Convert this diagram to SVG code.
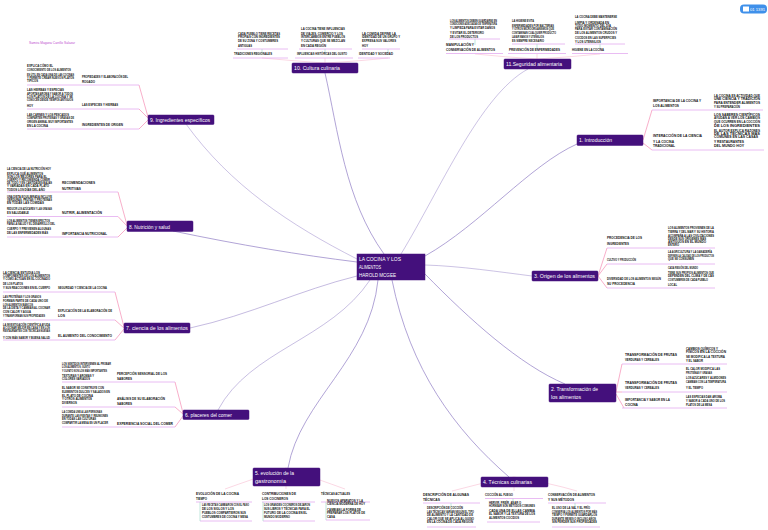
<svg xmlns="http://www.w3.org/2000/svg" width="768" height="530" viewBox="0 0 768 530">
<style>
text{font-family:"Liberation Sans",Arial,sans-serif}
.b{fill:#44107c;stroke:#44107c;stroke-width:.5}
.h{fill:#fff;font-size:5px}
.l{fill:#111;font-size:3.4px;font-weight:bold}
.t{fill:#111;font-size:3px;font-weight:bold}
.c{fill:none;stroke:#8f7cc4;stroke-width:.7}
.p{fill:none;stroke:#f7a6c4;stroke-width:.9}
.u{fill:none;stroke:#e6b4f2;stroke-width:.9}
.g{fill:none;stroke:#a8dccf;stroke-width:.7}
.a{fill:none;stroke:#f7b0c8;stroke-width:.5}
</style>
<rect width="768" height="530" fill="#fff"/>
<text x="29" y="43.500" style="fill:#c04fd0;font-size:3.4px" textLength="46" lengthAdjust="spacingAndGlyphs">Samira Magana Carrillo Salazar</text>
<g id="badge"><rect x="740" y="4.500" width="27" height="9" rx="4" fill="#3f90ea"/><rect x="743" y="6.500" width="6" height="5" fill="#fff"/><text x="750" y="10.800" style="fill:#fff;font-size:4.200px" textLength="15" lengthAdjust="spacingAndGlyphs">01 1391</text></g>
<g id="connectors">
<path class="c" d="M425 256C480 225 530 165 577 144"/>
<path class="c" d="M401 254C440 190 480 95 528 69" stroke-opacity=".65"/>
<path class="c" d="M384 254C345 200 338 130 325 73"/>
<path class="c" d="M357 259C290 225 230 185 186 124" stroke-opacity=".65"/>
<path class="c" d="M357 262C300 255 240 245 173 231"/>
<path class="c" d="M357 276C300 290 250 315 190 328" stroke-opacity=".75"/>
<path class="c" d="M370 280C330 340 250 350 218 410" stroke-opacity=".7"/>
<path class="c" d="M378 280C370 360 300 400 288 468"/>
<path class="c" d="M392 280C410 370 455 430 509 477"/>
<path class="c" d="M425 274C470 320 520 365 565 384"/>
<path class="c" d="M425 265C460 266 500 272 532 276" stroke-opacity=".65"/>
<g id="b1"><path class="p" d="M643 140L652 110M643 143L652 150"/><path class="u" d="M652 110H763M652 150H764"/></g>
<g id="b3"><path class="p" d="M598 276L607 248M598 276L607 264M598 276L607 288"/><path class="u" d="M607 248H715M607 264H715M607 288H715"/></g>
<g id="b2"><path class="p" d="M616 392L622 364M616 392L622 392M616 394L624 408"/><path class="u" d="M622 364H727M622 392H727M622 408H727"/></g>
<g id="b9"><path class="p" d="M148 117L139 85M148 118L139 109M148 120L139 129"/><path class="u" d="M139 85H27M139 109H27M139 129H27"/></g>
<g id="b8"><path class="p" d="M127 225L118 192M127 226L118 216.500M127 228L118 237"/><path class="u" d="M118 192H7M118 216.500H7M118 237H7"/></g>
<g id="b7"><path class="p" d="M124 327L115 292M124 328L115 320M124 329L115 340"/><path class="u" d="M115 292H3M115 320H3M115 340H3"/></g>
<g id="b6"><path class="p" d="M183 413L175 382M183 414L175 407M183 416L175 427"/><path class="u" d="M175 382H62M175 407H62M175 427H62"/></g>
<g id="b5"><path class="a" d="M286 468Q250 480 225 489M286 468V489M286 468Q320 480 345 489"/><path class="u" d="M196 502H252M262 502H315M321 502H370M200 521H252M263 521H315M326 520H370"/><path class="g" d="M200 502V521M263 502V521M326 502V520"/></g>
<g id="b4"><path class="a" d="M514 477Q480 483 452 491M514 477V491M514 477Q550 483 577 491"/><path class="u" d="M423 503H480M485 498.500H543M548 503H606M427 527H476M487 522H540M552 527H600"/><path class="g" d="M451 503V507M513 498.500V502M575 503V507"/></g>
<g id="b11"><path class="a" d="M537 59Q505 57 475 54M537 59V54M537 59Q570 57 600 54"/><path class="u" d="M446 53.500H503M508 53.500H566M572 53.500H628M449 39H500M512 44H565M575 44H625"/><path class="g" d="M475 39V45M537 44V49M600 44V49"/></g>
<g id="b10"><path class="a" d="M325 63Q295 61 262 58M325 63V58M325 63Q360 61 388 58"/><path class="u" d="M233 58H288M295 58H353M358 58H390M237 49H288M299 49H352M362 49H400"/><path class="g" d="M262 49V53M325 49V53M388 49V53"/></g>
</g>
<g id="center"><rect class="b" x="357" y="254" width="68" height="26"/><text class="h" x="359" y="261" textLength="42" lengthAdjust="spacingAndGlyphs">LA COCINA Y LOS</text><text class="h" x="359" y="268.500" textLength="22" lengthAdjust="spacingAndGlyphs">ALIMENTOS</text><text class="h" x="359" y="277" textLength="37" lengthAdjust="spacingAndGlyphs">HAROLD MCGEE</text></g>
<g id="n1"><rect class="b" x="577" y="135" width="66" height="10.500" rx="1"/><text class="h" x="579" y="142" textLength="33" lengthAdjust="spacingAndGlyphs">1. Introducción</text>
<text class="l" x="653" y="102" textLength="48" lengthAdjust="spacingAndGlyphs">IMPORTANCIA DE LA COCINA Y</text><text class="l" x="653" y="107" textLength="26" lengthAdjust="spacingAndGlyphs">LOS ALIMENTOS</text>
<text class="l" x="653" y="137" textLength="49" lengthAdjust="spacingAndGlyphs">INTERACCIÓN DE LA CIENCIA</text><text class="l" x="653" y="143" textLength="21" lengthAdjust="spacingAndGlyphs">Y LA COCINA</text><text class="l" x="653" y="147" textLength="22" lengthAdjust="spacingAndGlyphs">TRADICIONAL</text>
<text class="t" x="714" y="97" textLength="46" lengthAdjust="spacingAndGlyphs">LA COCINA ES ACTIVIDAD QUE</text><text class="t" x="714" y="100" textLength="46" lengthAdjust="spacingAndGlyphs">UNE CIENCIA Y TRADICIÓN</text><text class="t" x="714" y="104" textLength="46" lengthAdjust="spacingAndGlyphs">PARA ENTENDER ALIMENTOS</text><text class="t" x="714" y="108" textLength="26" lengthAdjust="spacingAndGlyphs">Y SU PREPARACIÓN</text>
<text class="t" x="714" y="116" textLength="46" lengthAdjust="spacingAndGlyphs">LOS SABERES CIENTÍFICOS</text><text class="t" x="714" y="119" textLength="46" lengthAdjust="spacingAndGlyphs">AYUDAN A VER LOS CAMBIOS</text><text class="t" x="714" y="123" textLength="46" lengthAdjust="spacingAndGlyphs">QUE OCURREN EN LA COCCIÓN</text><text class="t" x="714" y="127" textLength="46" lengthAdjust="spacingAndGlyphs">DE LOS INGREDIENTES</text><text class="t" x="714" y="132" textLength="46" lengthAdjust="spacingAndGlyphs">EL AUTOR EXPLICA RAZONES</text><text class="t" x="714" y="135" textLength="46" lengthAdjust="spacingAndGlyphs">DE LAS TÉCNICAS MÁS</text><text class="t" x="714" y="138" textLength="44" lengthAdjust="spacingAndGlyphs">COMUNES EN LAS CASAS</text><text class="t" x="714" y="143" textLength="30" lengthAdjust="spacingAndGlyphs">Y RESTAURANTES</text><text class="t" x="714" y="147" textLength="30" lengthAdjust="spacingAndGlyphs">DEL MUNDO HOY</text></g>
<g id="n3"><rect class="b" x="532" y="271" width="66" height="10" rx="1"/><text class="h" x="534" y="278" textLength="61" lengthAdjust="spacingAndGlyphs">3. Origen de los alimentos</text>
<text class="l" x="607" y="239" textLength="35" lengthAdjust="spacingAndGlyphs">PROCEDENCIA DE LOS</text><text class="l" x="607" y="245" textLength="22" lengthAdjust="spacingAndGlyphs">INGREDIENTES</text><text class="l" x="607" y="261" textLength="29" lengthAdjust="spacingAndGlyphs">CULTIVO Y PRODUCCIÓN</text><text class="l" x="607" y="280" textLength="54" lengthAdjust="spacingAndGlyphs">DIVERSIDAD DE LOS ALIMENTOS SEGÚN</text><text class="l" x="607" y="285" textLength="28" lengthAdjust="spacingAndGlyphs">SU PROCEDENCIA</text>
<text class="t" x="668" y="229" textLength="46" lengthAdjust="spacingAndGlyphs">LOS ALIMENTOS PROVIENEN DE LA</text><text class="t" x="668" y="233" textLength="46" lengthAdjust="spacingAndGlyphs">TIERRA Y DEL MAR Y SU HISTORIA</text><text class="t" x="668" y="236.500" textLength="46" lengthAdjust="spacingAndGlyphs">ACOMPAÑA A LAS CIVILIZACIONES</text><text class="t" x="668" y="239.500" textLength="38" lengthAdjust="spacingAndGlyphs">DESDE SUS ORÍGENES MÁS</text><text class="t" x="668" y="242.500" textLength="38" lengthAdjust="spacingAndGlyphs">ANTIGUOS EN EL MUNDO</text><text class="t" x="668" y="246" textLength="11" lengthAdjust="spacingAndGlyphs">ENTERO</text>
<text class="t" x="668" y="253" textLength="44" lengthAdjust="spacingAndGlyphs">LA AGRICULTURA Y LA GANADERÍA</text><text class="t" x="668" y="257" textLength="46" lengthAdjust="spacingAndGlyphs">DEFINEN LA CALIDAD DE LOS PRODUCTOS</text><text class="t" x="668" y="260" textLength="26" lengthAdjust="spacingAndGlyphs">QUE SE CONSUMEN</text>
<text class="t" x="668" y="269" textLength="30" lengthAdjust="spacingAndGlyphs">CADA REGIÓN DEL MUNDO</text><text class="t" x="668" y="273.500" textLength="46" lengthAdjust="spacingAndGlyphs">TIENE SUS PROPIOS ALIMENTOS QUE</text><text class="t" x="668" y="277" textLength="46" lengthAdjust="spacingAndGlyphs">DEPENDEN DEL CLIMA Y DE LAS</text><text class="t" x="668" y="280.500" textLength="40" lengthAdjust="spacingAndGlyphs">COSTUMBRES DE CADA PUEBLO</text><text class="t" x="668" y="286" textLength="9" lengthAdjust="spacingAndGlyphs">LOCAL</text></g>
<g id="n2"><rect class="b" x="549" y="384" width="67" height="18" rx="1"/><text class="h" x="551" y="391" textLength="47" lengthAdjust="spacingAndGlyphs">2. Transformación de</text><text class="h" x="551" y="398.500" textLength="30" lengthAdjust="spacingAndGlyphs">los alimentos</text>
<text class="l" x="625" y="356" textLength="52" lengthAdjust="spacingAndGlyphs">TRANSFORMACIÓN DE FRUTAS</text><text class="l" x="625" y="361" textLength="34" lengthAdjust="spacingAndGlyphs">VERDURAS Y CEREALES</text><text class="l" x="625" y="384" textLength="52" lengthAdjust="spacingAndGlyphs">TRANSFORMACIÓN DE FRUTAS</text><text class="l" x="625" y="389" textLength="34" lengthAdjust="spacingAndGlyphs">VERDURAS Y CEREALES</text><text class="l" x="625" y="401" textLength="45" lengthAdjust="spacingAndGlyphs">IMPORTANCIA Y SABOR EN LA</text><text class="l" x="625" y="405.500" textLength="13" lengthAdjust="spacingAndGlyphs">COCINA</text>
<text class="t" x="686" y="350" textLength="32" lengthAdjust="spacingAndGlyphs">CAMBIOS QUÍMICOS Y</text><text class="t" x="686" y="353" textLength="40" lengthAdjust="spacingAndGlyphs">FÍSICOS EN LA COCCIÓN</text><text class="t" x="686" y="358" textLength="39" lengthAdjust="spacingAndGlyphs">SE MODIFICA LA TEXTURA</text><text class="t" x="686" y="362" textLength="17" lengthAdjust="spacingAndGlyphs">Y EL SABOR</text>
<text class="t" x="686" y="370" textLength="34" lengthAdjust="spacingAndGlyphs">EL CALOR MODIFICA LAS</text><text class="t" x="686" y="374" textLength="26" lengthAdjust="spacingAndGlyphs">PROTEÍNAS Y GRASAS</text><text class="t" x="686" y="379" textLength="40" lengthAdjust="spacingAndGlyphs">LOS AZÚCARES Y ALMIDONES</text><text class="t" x="686" y="382.500" textLength="40" lengthAdjust="spacingAndGlyphs">CAMBIAN CON LA TEMPERATURA</text><text class="t" x="686" y="389" textLength="17" lengthAdjust="spacingAndGlyphs">Y EL TIEMPO</text>
<text class="t" x="686" y="398" textLength="36" lengthAdjust="spacingAndGlyphs">LAS ESPECIAS DAN AROMA</text><text class="t" x="686" y="402" textLength="39" lengthAdjust="spacingAndGlyphs">Y SABOR A CADA UNO DE LOS</text><text class="t" x="686" y="406" textLength="26" lengthAdjust="spacingAndGlyphs">PLATOS DE LA MESA</text></g>
<g id="n4"><rect class="b" x="481" y="477" width="67" height="10" rx="1"/><text class="h" x="483" y="484" textLength="49" lengthAdjust="spacingAndGlyphs">4. Técnicas culinarias</text>
<text class="l" x="423" y="495.500" textLength="46" lengthAdjust="spacingAndGlyphs">DESCRIPCIÓN DE ALGUNAS</text><text class="l" x="423" y="500.500" textLength="17" lengthAdjust="spacingAndGlyphs">TÉCNICAS</text><text class="l" x="485" y="495.500" textLength="28" lengthAdjust="spacingAndGlyphs">COCCIÓN AL FUEGO</text><text class="l" x="548" y="495.500" textLength="47" lengthAdjust="spacingAndGlyphs">CONSERVACIÓN DE ALIMENTOS</text><text class="l" x="548" y="500.500" textLength="26" lengthAdjust="spacingAndGlyphs">Y SUS MÉTODOS</text>
<text class="t" x="427" y="509" textLength="36" lengthAdjust="spacingAndGlyphs">DESCRIPCIÓN DE COCCIÓN</text><text class="t" x="427" y="512.500" textLength="47" lengthAdjust="spacingAndGlyphs">LAS TÉCNICAS VARÍAN SEGÚN EL TIPO</text><text class="t" x="427" y="516" textLength="46" lengthAdjust="spacingAndGlyphs">DE ALIMENTO Y LA CANTIDAD DE</text><text class="t" x="427" y="519.500" textLength="47" lengthAdjust="spacingAndGlyphs">CALOR QUE SE APLICA AL GUISO</text><text class="t" x="427" y="523" textLength="46" lengthAdjust="spacingAndGlyphs">EN LA COCINA DE CADA REGIÓN</text>
<text class="t" x="489" y="504" textLength="32" lengthAdjust="spacingAndGlyphs">HERVIR, FREÍR, ASAR O</text><text class="t" x="489" y="507" textLength="46" lengthAdjust="spacingAndGlyphs">HORNEAR SON MÉTODOS COMUNES</text><text class="t" x="489" y="512" textLength="46" lengthAdjust="spacingAndGlyphs">CADA UNA DE ELLAS CAMBIA</text><text class="t" x="489" y="515" textLength="46" lengthAdjust="spacingAndGlyphs">EL SABOR Y LA TEXTURA DE LOS</text><text class="t" x="489" y="519" textLength="30" lengthAdjust="spacingAndGlyphs">ALIMENTOS COCIDOS</text>
<text class="t" x="552" y="509" textLength="38" lengthAdjust="spacingAndGlyphs">EL USO DE LA SAL Y EL FRÍO</text><text class="t" x="552" y="512.500" textLength="45" lengthAdjust="spacingAndGlyphs">CONSERVA LOS ALIMENTOS POR MÁS</text><text class="t" x="552" y="516" textLength="45" lengthAdjust="spacingAndGlyphs">TIEMPO Y PERMITE GUARDARLOS</text><text class="t" x="552" y="519.500" textLength="44" lengthAdjust="spacingAndGlyphs">DURANTE MESES O INCLUSO AÑOS</text><text class="t" x="552" y="523" textLength="45" lengthAdjust="spacingAndGlyphs">SIN PERDER SUS PROPIEDADES</text></g>
<g id="n5"><rect class="b" x="253" y="468" width="67" height="18" rx="1"/><text class="h" x="255" y="475" textLength="39" lengthAdjust="spacingAndGlyphs">5. evolución de la</text><text class="h" x="255" y="482.500" textLength="31" lengthAdjust="spacingAndGlyphs">gastronomía</text>
<text class="l" x="196" y="494.500" textLength="43" lengthAdjust="spacingAndGlyphs">EVOLUCIÓN DE LA COCINA</text><text class="l" x="196" y="499.500" textLength="11" lengthAdjust="spacingAndGlyphs">TIEMPO</text><text class="l" x="262" y="494.500" textLength="34" lengthAdjust="spacingAndGlyphs">CONTRIBUCIONES DE</text><text class="l" x="262" y="499.500" textLength="26" lengthAdjust="spacingAndGlyphs">LOS COCINEROS</text><text class="l" x="321" y="494.500" textLength="29" lengthAdjust="spacingAndGlyphs">TÉCNICAS ACTUALES</text>
<text class="t" x="202" y="506" textLength="47" lengthAdjust="spacingAndGlyphs">LAS RECETAS CAMBIARON CON EL PASO</text><text class="t" x="202" y="510" textLength="32" lengthAdjust="spacingAndGlyphs">DE LOS SIGLOS Y LOS</text><text class="t" x="202" y="514" textLength="44" lengthAdjust="spacingAndGlyphs">PUEBLOS COMPARTIERON SUS</text><text class="t" x="202" y="518" textLength="46" lengthAdjust="spacingAndGlyphs">COSTUMBRES DE COCINA Y MESA</text>
<text class="t" x="264" y="506" textLength="46" lengthAdjust="spacingAndGlyphs">LOS GRANDES COCINEROS DEJARON</text><text class="t" x="264" y="510" textLength="46" lengthAdjust="spacingAndGlyphs">SUS LIBROS Y TÉCNICAS PARA EL</text><text class="t" x="264" y="514" textLength="43" lengthAdjust="spacingAndGlyphs">FUTURO DE LA COCINA EN EL</text><text class="t" x="264" y="518" textLength="26" lengthAdjust="spacingAndGlyphs">MUNDO MODERNO</text>
<text class="t" x="327" y="502" textLength="36" lengthAdjust="spacingAndGlyphs">NUEVOS APARATOS Y LA</text><text class="t" x="327" y="505" textLength="38" lengthAdjust="spacingAndGlyphs">CIENCIA MODERNA DE HOY</text><text class="t" x="327" y="510.500" textLength="34" lengthAdjust="spacingAndGlyphs">CAMBIAN LA FORMA DE</text><text class="t" x="327" y="513.500" textLength="38" lengthAdjust="spacingAndGlyphs">PREPARAR LOS PLATOS DE</text><text class="t" x="327" y="517.500" textLength="8" lengthAdjust="spacingAndGlyphs">CASA</text></g>
<g id="n6"><rect class="b" x="183" y="410" width="66" height="9.500" rx="1"/><text class="h" x="185" y="417" textLength="47" lengthAdjust="spacingAndGlyphs">6. placeres del comer</text>
<text class="l" x="117" y="375" textLength="50" lengthAdjust="spacingAndGlyphs">PERCEPCIÓN SENSORIAL DE LOS</text><text class="l" x="117" y="380" textLength="15" lengthAdjust="spacingAndGlyphs">SABORES</text><text class="l" x="117" y="400" textLength="48" lengthAdjust="spacingAndGlyphs">ANÁLISIS DE SU ELABORACIÓN</text><text class="l" x="117" y="405" textLength="15" lengthAdjust="spacingAndGlyphs">SABORES</text><text class="l" x="117" y="424.500" textLength="56" lengthAdjust="spacingAndGlyphs">EXPERIENCIA SOCIAL DEL COMER</text>
<text class="t" x="62" y="365" textLength="49" lengthAdjust="spacingAndGlyphs">LOS SENTIDOS INTERVIENEN AL PROBAR</text><text class="t" x="62" y="368" textLength="28" lengthAdjust="spacingAndGlyphs">LOS ALIMENTOS, GUSTO</text><text class="t" x="62" y="372" textLength="45" lengthAdjust="spacingAndGlyphs">Y OLFATO SON LOS MÁS IMPORTANTES</text><text class="t" x="62" y="377" textLength="32" lengthAdjust="spacingAndGlyphs">TEXTURAS Y AROMAS Y</text><text class="t" x="62" y="380" textLength="28" lengthAdjust="spacingAndGlyphs">COLORES VARIADOS</text>
<text class="t" x="62" y="389" textLength="42" lengthAdjust="spacingAndGlyphs">EL SABOR SE CONSTRUYE CON</text><text class="t" x="62" y="393" textLength="48" lengthAdjust="spacingAndGlyphs">ELEMENTOS DULCES Y SALADOS EN</text><text class="t" x="62" y="396.500" textLength="31" lengthAdjust="spacingAndGlyphs">EL PLATO DE COCINA</text><text class="t" x="62" y="400" textLength="30" lengthAdjust="spacingAndGlyphs">Y OTROS ALIMENTOS</text><text class="t" x="62" y="404" textLength="15" lengthAdjust="spacingAndGlyphs">DIVERSOS</text>
<text class="t" x="62" y="413" textLength="40" lengthAdjust="spacingAndGlyphs">LA COMIDA UNE A LAS PERSONAS</text><text class="t" x="62" y="416.500" textLength="46" lengthAdjust="spacingAndGlyphs">DURANTE LAS FIESTAS Y REUNIONES</text><text class="t" x="62" y="420" textLength="34" lengthAdjust="spacingAndGlyphs">EN TODAS LAS CULTURAS</text><text class="t" x="62" y="424" textLength="46" lengthAdjust="spacingAndGlyphs">COMPARTIR LA MESA ES UN PLACER</text></g>
<g id="n7"><rect class="b" x="124" y="323" width="66" height="10" rx="1"/><text class="h" x="126" y="330" textLength="62" lengthAdjust="spacingAndGlyphs">7. ciencia de los alimentos</text>
<text class="l" x="58" y="289" textLength="49" lengthAdjust="spacingAndGlyphs">SEGURIDAD Y CIENCIA DE LA COCINA</text><text class="l" x="58" y="312" textLength="54" lengthAdjust="spacingAndGlyphs">EXPLICACIÓN DE LA ELABORACIÓN DE</text><text class="l" x="58" y="317" textLength="7" lengthAdjust="spacingAndGlyphs">LOS</text><text class="l" x="58" y="337" textLength="54" lengthAdjust="spacingAndGlyphs">EL AUMENTO DEL CONOCIMIENTO</text>
<text class="t" x="3" y="274" textLength="37" lengthAdjust="spacingAndGlyphs">LA CIENCIA ESTUDIA LOS</text><text class="t" x="3" y="277" textLength="47" lengthAdjust="spacingAndGlyphs">COMPONENTES DE LOS ALIMENTOS</text><text class="t" x="3" y="280" textLength="47" lengthAdjust="spacingAndGlyphs">Y CÓMO ACTÚAN EN EL COCINADO</text><text class="t" x="3" y="285" textLength="20" lengthAdjust="spacingAndGlyphs">DE LOS PLATOS</text><text class="t" x="3" y="289" textLength="47" lengthAdjust="spacingAndGlyphs">Y SUS REACCIONES EN EL CUERPO</text>
<text class="t" x="3" y="298" textLength="38" lengthAdjust="spacingAndGlyphs">LAS PROTEÍNAS Y LOS GRASOS</text><text class="t" x="3" y="302" textLength="45" lengthAdjust="spacingAndGlyphs">FORMAN PARTE DE CADA UNO DE</text><text class="t" x="3" y="305.500" textLength="30" lengthAdjust="spacingAndGlyphs">LOS ALIMENTOS BÁSICOS</text><text class="t" x="3" y="309" textLength="47" lengthAdjust="spacingAndGlyphs">DE LA DIETA Y CAMBIAN AL COCINAR</text><text class="t" x="3" y="312.500" textLength="28" lengthAdjust="spacingAndGlyphs">CON CALOR Y AGUA</text><text class="t" x="3" y="317" textLength="42" lengthAdjust="spacingAndGlyphs">Y TRANSFORMAN SUS PROPIEDADES</text>
<text class="t" x="3" y="326" textLength="47" lengthAdjust="spacingAndGlyphs">LA INVESTIGACIÓN CIENTÍFICA AYUDA</text><text class="t" x="3" y="329" textLength="47" lengthAdjust="spacingAndGlyphs">A COCINAR MEJOR EN CASA Y EN LOS</text><text class="t" x="3" y="332" textLength="47" lengthAdjust="spacingAndGlyphs">RESTAURANTES CON TÉCNICAS NUEVAS</text><text class="t" x="3" y="339" textLength="47" lengthAdjust="spacingAndGlyphs">Y CON MÁS SABOR Y BUENA SALUD</text></g>
<g id="n8"><rect class="b" x="127" y="221" width="66" height="10.500" rx="1"/><text class="h" x="129" y="228.500" textLength="41" lengthAdjust="spacingAndGlyphs">8. Nutrición y salud</text>
<text class="l" x="62" y="184" textLength="33" lengthAdjust="spacingAndGlyphs">RECOMENDACIONES</text><text class="l" x="62" y="190" textLength="19" lengthAdjust="spacingAndGlyphs">NUTRITIVAS</text><text class="l" x="62" y="214" textLength="40" lengthAdjust="spacingAndGlyphs">NUTRIR, ALIMENTACIÓN</text><text class="l" x="62" y="234.500" textLength="45" lengthAdjust="spacingAndGlyphs">IMPORTANCIA NUTRICIONAL</text>
<text class="t" x="7" y="170" textLength="44" lengthAdjust="spacingAndGlyphs">LA CIENCIA DE LA NUTRICIÓN HOY</text><text class="t" x="7" y="175" textLength="36" lengthAdjust="spacingAndGlyphs">EXPLICA QUÉ ALIMENTOS</text><text class="t" x="7" y="178" textLength="40" lengthAdjust="spacingAndGlyphs">SON LOS MEJORES PARA EL</text><text class="t" x="7" y="181" textLength="43" lengthAdjust="spacingAndGlyphs">CUERPO Y RECOMIENDA COMER</text><text class="t" x="7" y="184" textLength="45" lengthAdjust="spacingAndGlyphs">DE TODO Y EN CANTIDADES BAJAS</text><text class="t" x="7" y="187" textLength="42" lengthAdjust="spacingAndGlyphs">Y VARIADAS EN CADA PLATO</text><text class="t" x="7" y="190.500" textLength="38" lengthAdjust="spacingAndGlyphs">TODOS LOS DÍAS DEL AÑO</text>
<text class="t" x="7" y="198" textLength="45" lengthAdjust="spacingAndGlyphs">UNA DIETA EQUILIBRADA INCLUYE</text><text class="t" x="7" y="201" textLength="45" lengthAdjust="spacingAndGlyphs">VERDURAS, FRUTAS Y PROTEÍNAS</text><text class="t" x="7" y="204" textLength="37" lengthAdjust="spacingAndGlyphs">EN TODAS LAS COMIDAS</text><text class="t" x="7" y="210" textLength="45" lengthAdjust="spacingAndGlyphs">REDUCIR LOS AZÚCARES Y LAS GRASAS</text><text class="t" x="7" y="214" textLength="22" lengthAdjust="spacingAndGlyphs">ES SALUDABLE</text>
<text class="t" x="7" y="222" textLength="43" lengthAdjust="spacingAndGlyphs">LOS ALIMENTOS TIENEN EFECTOS</text><text class="t" x="7" y="225" textLength="48" lengthAdjust="spacingAndGlyphs">PARA LA SALUD Y EL DESARROLLO DEL</text><text class="t" x="7" y="230" textLength="44" lengthAdjust="spacingAndGlyphs">CUERPO Y PREVIENEN ALGUNAS</text><text class="t" x="7" y="234" textLength="41" lengthAdjust="spacingAndGlyphs">DE LAS ENFERMEDADES MÁS</text></g>
<g id="n9"><rect class="b" x="148" y="115" width="66" height="9.500" rx="1"/><text class="h" x="150" y="121.500" textLength="60" lengthAdjust="spacingAndGlyphs">9. Ingredientes específicos</text>
<text class="l" x="82" y="78" textLength="46" lengthAdjust="spacingAndGlyphs">PROPIEDADES Y ELABORACIÓN DEL</text><text class="l" x="82" y="83" textLength="13" lengthAdjust="spacingAndGlyphs">ROGADO</text><text class="l" x="82" y="106" textLength="36" lengthAdjust="spacingAndGlyphs">LAS ESPECIES Y HIERBAS</text><text class="l" x="82" y="126" textLength="41" lengthAdjust="spacingAndGlyphs">INGREDIENTES DE ORIGEN</text>
<text class="t" x="27" y="67" textLength="26" lengthAdjust="spacingAndGlyphs">EXPLICA CÓMO EL</text><text class="t" x="27" y="71" textLength="44" lengthAdjust="spacingAndGlyphs">CONOCIMIENTO DE LOS ALIMENTOS</text><text class="t" x="27" y="76" textLength="47" lengthAdjust="spacingAndGlyphs">ES ÚTIL EN CADA UNA DE LAS COCINAS</text><text class="t" x="27" y="79" textLength="47" lengthAdjust="spacingAndGlyphs">Y PERMITE CREAR NUEVOS PLATOS</text><text class="t" x="27" y="82" textLength="11" lengthAdjust="spacingAndGlyphs">TIPICOS</text>
<text class="t" x="27" y="91" textLength="37" lengthAdjust="spacingAndGlyphs">LAS HIERBAS Y ESPECIAS</text><text class="t" x="27" y="95" textLength="46" lengthAdjust="spacingAndGlyphs">APORTAN AROMA Y SABOR A TODOS</text><text class="t" x="27" y="98" textLength="46" lengthAdjust="spacingAndGlyphs">LOS PLATOS DE LA COCINA Y SE</text><text class="t" x="27" y="101" textLength="46" lengthAdjust="spacingAndGlyphs">CONOCEN DESDE TIEMPOS ANTIGUOS</text><text class="t" x="27" y="107" textLength="6" lengthAdjust="spacingAndGlyphs">HOY</text>
<text class="t" x="27" y="116" textLength="42" lengthAdjust="spacingAndGlyphs">LAS CARNES Y LOS PESCADOS</text><text class="t" x="27" y="119" textLength="47" lengthAdjust="spacingAndGlyphs">COMPARTEN PROTEÍNAS Y GRASAS DE</text><text class="t" x="27" y="123" textLength="46" lengthAdjust="spacingAndGlyphs">ORIGEN ANIMAL MUY IMPORTANTES</text><text class="t" x="27" y="127" textLength="21" lengthAdjust="spacingAndGlyphs">EN LA COCINA</text></g>
<g id="n10"><rect class="b" x="292" y="63" width="66" height="10" rx="1"/><text class="h" x="294" y="70" textLength="46" lengthAdjust="spacingAndGlyphs">10. Cultura culinaria</text>
<text class="l" x="234" y="55" textLength="38" lengthAdjust="spacingAndGlyphs">TRADICIONES REGIONALES</text><text class="l" x="297" y="55" textLength="50" lengthAdjust="spacingAndGlyphs">INFLUENCIAS HISTÓRICAS DEL GUSTO</text><text class="l" x="359" y="55" textLength="34" lengthAdjust="spacingAndGlyphs">IDENTIDAD Y SOCIEDAD</text>
<text class="t" x="238" y="35" textLength="42" lengthAdjust="spacingAndGlyphs">CADA PUEBLO TIENE RECETAS</text><text class="t" x="238" y="38" textLength="42" lengthAdjust="spacingAndGlyphs">PROPIAS CON INGREDIENTES</text><text class="t" x="238" y="42" textLength="40" lengthAdjust="spacingAndGlyphs">DE SU ZONA Y COSTUMBRES</text><text class="t" x="238" y="47" textLength="14" lengthAdjust="spacingAndGlyphs">ANTIGUAS</text>
<text class="t" x="301" y="30" textLength="44" lengthAdjust="spacingAndGlyphs">LA COCINA TIENE INFLUENCIAS</text><text class="t" x="301" y="35" textLength="42" lengthAdjust="spacingAndGlyphs">DE VIAJES, COMERCIO Y LOS</text><text class="t" x="301" y="38" textLength="44" lengthAdjust="spacingAndGlyphs">INTERCAMBIOS ENTRE PUEBLOS</text><text class="t" x="301" y="42" textLength="44" lengthAdjust="spacingAndGlyphs">Y CULTURAS QUE SE MEZCLAN</text><text class="t" x="301" y="47" textLength="25" lengthAdjust="spacingAndGlyphs">EN CADA REGIÓN</text>
<text class="t" x="362" y="35" textLength="34" lengthAdjust="spacingAndGlyphs">LA COMIDA DEFINE LA</text><text class="t" x="362" y="38" textLength="38" lengthAdjust="spacingAndGlyphs">IDENTIDAD DE UN GRUPO Y</text><text class="t" x="362" y="42" textLength="34" lengthAdjust="spacingAndGlyphs">EXPRESA SUS VALORES</text><text class="t" x="362" y="47" textLength="6" lengthAdjust="spacingAndGlyphs">HOY</text></g>
<g id="n11"><rect class="b" x="504" y="59" width="67" height="10" rx="1"/><text class="h" x="506" y="66" textLength="56" lengthAdjust="spacingAndGlyphs">11.Seguridad alimentaria</text>
<text class="l" x="446" y="46" textLength="28" lengthAdjust="spacingAndGlyphs">MANIPULACIÓN Y</text><text class="l" x="446" y="51" textLength="49" lengthAdjust="spacingAndGlyphs">CONSERVACIÓN DE ALIMENTOS</text><text class="l" x="509" y="51" textLength="51" lengthAdjust="spacingAndGlyphs">PREVENCIÓN DE ENFERMEDADES</text><text class="l" x="572" y="51" textLength="32" lengthAdjust="spacingAndGlyphs">HIGIENE EN LA COCINA</text>
<text class="t" x="450" y="22" textLength="47" lengthAdjust="spacingAndGlyphs">LOS ALIMENTOS DEBEN GUARDARSE EN</text><text class="t" x="450" y="25" textLength="47" lengthAdjust="spacingAndGlyphs">CONDICIONES ADECUADAS DE TEMPERATURA</text><text class="t" x="450" y="29" textLength="45" lengthAdjust="spacingAndGlyphs">Y LIMPIEZA PARA EVITAR DAÑOS</text><text class="t" x="450" y="34" textLength="34" lengthAdjust="spacingAndGlyphs">Y EVITAR EL DETERIORO</text><text class="t" x="450" y="38" textLength="28" lengthAdjust="spacingAndGlyphs">DE LOS PRODUCTOS</text>
<text class="t" x="512" y="22" textLength="22" lengthAdjust="spacingAndGlyphs">LA HIGIENE EVITA</text><text class="t" x="512" y="27" textLength="42" lengthAdjust="spacingAndGlyphs">ENFERMEDADES POR BACTERIAS</text><text class="t" x="512" y="30" textLength="42" lengthAdjust="spacingAndGlyphs">Y OTROS MICROORGANISMOS QUE</text><text class="t" x="512" y="34" textLength="44" lengthAdjust="spacingAndGlyphs">CONTAMINAN CUALQUIER PRODUCTO</text><text class="t" x="512" y="38" textLength="32" lengthAdjust="spacingAndGlyphs">LAVAR MANOS Y UTENSILIOS</text><text class="t" x="512" y="42" textLength="32" lengthAdjust="spacingAndGlyphs">ES SIEMPRE NECESARIO</text>
<text class="t" x="575" y="18" textLength="42" lengthAdjust="spacingAndGlyphs">LA COCINA DEBE MANTENERSE</text><text class="t" x="575" y="24" textLength="34" lengthAdjust="spacingAndGlyphs">LIMPIA Y ORDENADA EN</text><text class="t" x="575" y="27" textLength="36" lengthAdjust="spacingAndGlyphs">TODO MOMENTO DEL DÍA</text><text class="t" x="575" y="30" textLength="42" lengthAdjust="spacingAndGlyphs">PARA EVITAR CONTAMINACIÓN</text><text class="t" x="575" y="34" textLength="42" lengthAdjust="spacingAndGlyphs">DE LOS ALIMENTOS CRUDOS Y</text><text class="t" x="575" y="39" textLength="41" lengthAdjust="spacingAndGlyphs">COCIDOS EN LAS SUPERFICIES</text><text class="t" x="575" y="43" textLength="26" lengthAdjust="spacingAndGlyphs">Y LOS UTENSILIOS</text></g>
</svg>
